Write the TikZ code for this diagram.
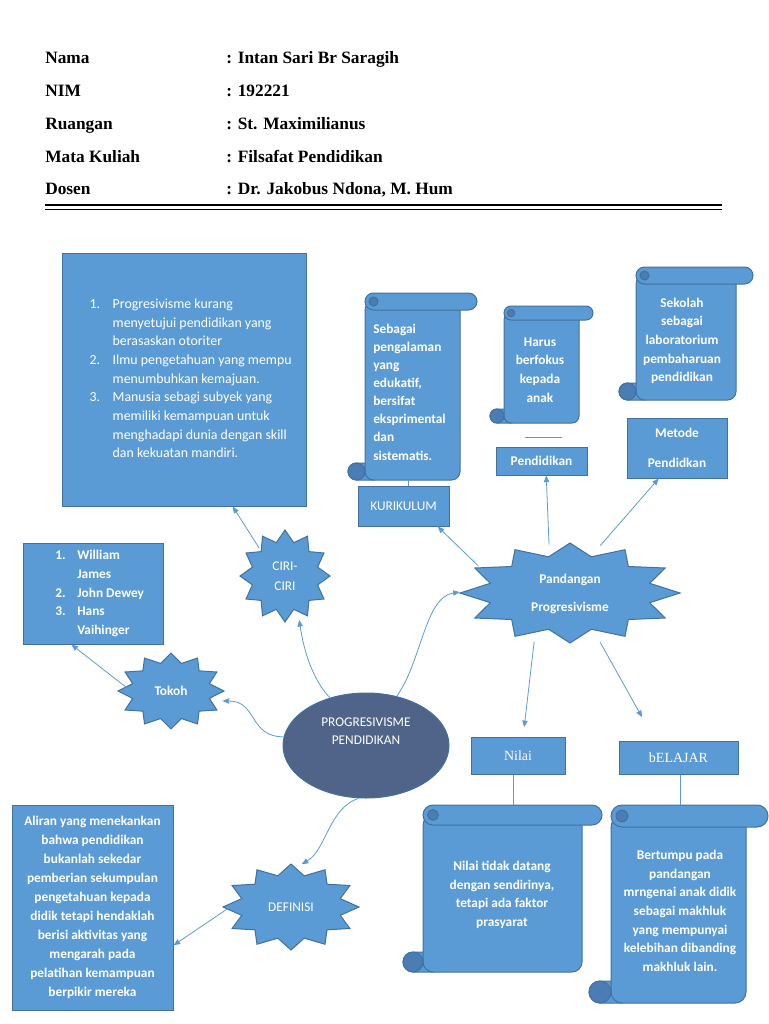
\documentclass[tikz,border=0pt]{standalone}
\usepackage{fontspec}
\setmainfont{Liberation Serif}
\newfontfamily\calibri{Carlito}
\usetikzlibrary{shapes.geometric,arrows.meta,calc}

\definecolor{boxblue}{HTML}{5B9BD5}
\definecolor{boxedge}{HTML}{41719C}
\definecolor{curlblue}{HTML}{4A7DB5}
\definecolor{ovalblue}{HTML}{4F6488}

% vertical scroll: x0, y0, x1, y1, roll size (px)
\newcommand{\scrollshape}[5]{%
	\filldraw[scroll, rounded corners=#5*0.375pt] (#1,#4-#5) rectangle (#1+2*#5,#4);
	\filldraw[scroll, rounded corners=#5*0.375pt] (#1+#5,#2+#5/2) rectangle (#3-#5,#4);
	\filldraw[scroll, rounded corners=#5*0.375pt] (#1+#5,#2) rectangle (#3,#2+#5);
	\filldraw[curl] (#1+1.5*#5,#2+0.5*#5) circle [radius=#5*0.2pt];
	\filldraw[curl] (#1+0.5*#5,#4-0.5*#5) circle [radius=#5*0.375pt];
}
% 12 point star: cx, cy, rx, ry (px)
\newcommand{\burst}[4]{%
	\filldraw[starshape] (#1,#2-#4)
	\foreach \k in {1,...,23}{ -- ({#1+(1-0.25*mod(\k,2))*#3*sin(15*\k)},{#2-(1-0.25*mod(\k,2))*#4*cos(15*\k)}) } -- cycle;
}

\begin{document}
\begin{tikzpicture}[x=0.75pt,y=-0.75pt]
	\tikzstyle{head} = [anchor=base west, inner sep=0pt, font=\fontsize{13}{15}\selectfont\bfseries]
	\tikzstyle{box} = [rectangle, draw=boxedge, fill=boxblue, line width=0.75pt, text=white, inner sep=0pt, align=center, font=\calibri\fontsize{10}{14}\selectfont]
	\tikzstyle{txt} = [text=white, inner sep=0pt, align=center, font=\calibri\fontsize{10}{14}\selectfont]
	\tikzstyle{scroll} = [draw=boxedge, fill=boxblue, line width=0.75pt]
	\tikzstyle{curl} = [draw=boxedge, fill=curlblue, line width=0.75pt]
	\tikzstyle{starshape} = [draw=boxedge, fill=boxblue, line width=0.75pt]
	\tikzstyle{hotspot} = [ellipse, inner sep=0pt]
	\tikzstyle{arrow} = [line width=0.6pt, draw=boxblue, -{Triangle[length=5pt,width=4pt]}]
	\tikzstyle{link} = [line width=0.6pt, draw=boxblue]

	\useasboundingbox (0,0) rectangle (768,1024);

	% identitas
	\node (nama) [head] at (45,63.5) {Nama};
	\node (namaval) [head] at (226,63.5) {: Intan Sari Br Saragih};
	\node (nim) [head] at (45,96.5) {NIM};
	\node (nimval) [head] at (226,96.5) {: 192221};
	\node (ruang) [head] at (45,129) {Ruangan};
	\node (ruangval) [head] at (226,129) {: St. Maximilianus};
	\node (mk) [head] at (45,162) {Mata Kuliah};
	\node (mkval) [head] at (226,162) {: Filsafat Pendidikan};
	\node (dosen) [head] at (45,194.5) {Dosen};
	\node (dosenval) [head] at (226,194.5) {: Dr. Jakobus Ndona, M. Hum};
	\draw [line width=1.2pt] (45,205) -- (722,205);
	\draw [line width=0.6pt] (45,209) -- (722,209);

	% gulungan
	\scrollshape{348}{293}{477}{480}{17}
	\scrollshape{490}{306}{593}{423}{14}
	\scrollshape{619}{267}{753}{400}{17}
	\scrollshape{403}{805}{602}{972}{20}
	\scrollshape{589}{805}{768}{1003}{22}
	\node (skurtext) [txt, anchor=west, align=left, font=\calibri\bfseries\fontsize{10}{13.6}\selectfont] at (373,392) {Sebagai\\pengalaman\\yang\\edukatif,\\bersifat\\eksprimental\\dan\\sistematis.};
	\node (spendtext) [txt, font=\calibri\bfseries\fontsize{10}{14}\selectfont] at (540,370) {Harus\\berfokus\\kepada\\anak};
	\node (smettext) [txt, font=\calibri\bfseries\fontsize{10}{14}\selectfont] at (682,341) {Sekolah\\sebagai\\laboratorium\\pembaharuan\\pendidikan};
	\node (sniltext) [txt, font=\calibri\bfseries\fontsize{10}{14}\selectfont] at (502,895) {Nilai tidak datang\\dengan sendirinya,\\tetapi ada faktor\\prasyarat};
	\node (sbeltext) [txt, font=\calibri\bfseries\fontsize{10}{14}\selectfont] at (680,911) {Bertumpu pada\\pandangan\\mrngenai anak didik\\sebagai makhluk\\yang mempunyai\\kelebihan dibanding\\makhluk lain.};

	% bintang
	\burst{285}{576}{45}{46}
	\burst{171}{691}{53}{38}
	\burst{570}{593}{110}{50}
	\burst{291}{907}{68}{43}
	\node (ciri) [hotspot, txt, minimum width=67.5pt, minimum height=69pt, font=\calibri\fontsize{10}{15}\selectfont] at (285,576) {CIRI-\\CIRI};
	\node (tokoh) [hotspot, txt, minimum width=79.5pt, minimum height=57pt, font=\calibri\bfseries\fontsize{10}{14}\selectfont] at (171,691) {Tokoh};
	\node (pand) [hotspot, txt, minimum width=165pt, minimum height=75pt, font=\calibri\bfseries\fontsize{10}{14}\selectfont] at (570,594) {Pandangan\\[7pt]Progresivisme};
	\node (defin) [hotspot, txt, minimum width=102pt, minimum height=64.5pt] at (291,907) {DEFINISI};

	% kotak
	\node (ciribox) [box, minimum width=183pt, minimum height=189.75pt, font=\calibri\fontsize{10.4}{14}\selectfont] at (184,379.5) {%
		\begin{tabular}{@{\hspace{10pt}}p{17.25pt}@{}l@{}}
		1. & Progresivisme kurang\\
		   & menyetujui pendidikan yang\\
		   & berasaskan otoriter\\
		2. & Ilmu pengetahuan yang mempu\\
		   & menumbuhkan kemajuan.\\
		3. & Manusia sebagi subyek yang\\
		   & memiliki kemampuan untuk\\
		   & menghadapi dunia dengan skill\\
		   & dan kekuatan mandiri.
		\end{tabular}};
	\node (tlist) [box, minimum width=105pt, minimum height=75.75pt, font=\calibri\bfseries\fontsize{10}{14}\selectfont] at (93,593.5) {%
		\begin{tabular}{@{\hspace{10pt}}p{16.5pt}@{}l@{}}
		1. & William\\
		   & James\\
		2. & John Dewey\\
		3. & Hans\\
		   & Vaihinger
		\end{tabular}};
	\node (kur) [box, minimum width=68.25pt, minimum height=30pt] at (403.5,506) {KURIKULUM};
	\node (pendid) [box, minimum width=68.25pt, minimum height=21pt, font=\calibri\bfseries\fontsize{10}{14}\selectfont] at (541.5,461) {Pendidikan};
	\node (metode) [box, minimum width=75pt, minimum height=45pt, font=\calibri\bfseries\fontsize{10}{14}\selectfont] at (677,448) {Metode\\[8pt]Pendidkan};
	\node (nilai) [box, minimum width=70.5pt, minimum height=27.75pt, font=\fontsize{10.5}{13}\selectfont] at (518,755.5) {Nilai};
	\node (belajar) [box, minimum width=89.25pt, minimum height=24.75pt, font=\fontsize{10.5}{13}\selectfont] at (678.5,757.5) {bELAJAR};
	\node (defbox) [box, minimum width=120.75pt, minimum height=153.75pt, font=\calibri\bfseries\fontsize{10}{14.2}\selectfont] at (92.5,907.5) {Aliran yang menekankan\\bahwa pendidikan\\bukanlah sekedar\\pemberian sekumpulan\\pengetahuan kepada\\didik tetapi hendaklah\\berisi aktivitas yang\\mengarah pada\\pelatihan kemampuan\\berpikir mereka};

	% pusat
	\node (oval) [ellipse, draw=boxedge, fill=ovalblue, line width=0.75pt, minimum width=124.5pt, minimum height=78.75pt] at (366,745.5) {};
	\node (ovaltext) [txt, font=\calibri\fontsize{10}{13.5}\selectfont] at (366,731) {PROGRESIVISME\\PENDIDIKAN};

	% garis
	\coordinate (skurb) at (408,480);
	\draw [link] (skurb) -- (skurb |- kur.north);
	\coordinate (snilt) at (513,805);
	\draw [link] (nilai.south -| snilt) -- (snilt);
	\coordinate (sbelt) at (680,805);
	\draw [link] (belajar.south -| sbelt) -- (sbelt);
	\draw [link] (525,437) -- (562,437);

	% panah
	\draw [arrow] (oval.174) .. controls +(-35,0) and +(35,0) .. (tokoh.-11);
	\draw [arrow, shorten <=-8pt] (tokoh.170) -- (tlist.-113);
	\draw [arrow] (oval.127) .. controls +(-15,-15) and +(5,35) .. (ciri.-72);
	\draw [arrow, shorten <=-6pt] (ciri.131) -- (ciribox.-69);
	\draw [arrow] (oval.58) .. controls +(25,-35) and +(-35,5) .. (pand.179);
	\draw [arrow] (pand.163) -- (kur.-31);
	\draw [arrow] (pand.113) -- (pendid.-72);
	\draw [arrow] (pand.58) -- (metode.-121);
	\draw [arrow, shorten >=7pt] (pand.-127) -- (nilai.75);
	\draw [arrow, shorten >=20pt] (pand.-58) -- (belajar.144);
	\draw [arrow] (oval.-98) .. controls +(-30,10) and +(25,-15) .. (defin.76);
	\draw [arrow, shorten <=-5pt] (defin.184) -- (defbox.-25);
\end{tikzpicture}
\end{document}
